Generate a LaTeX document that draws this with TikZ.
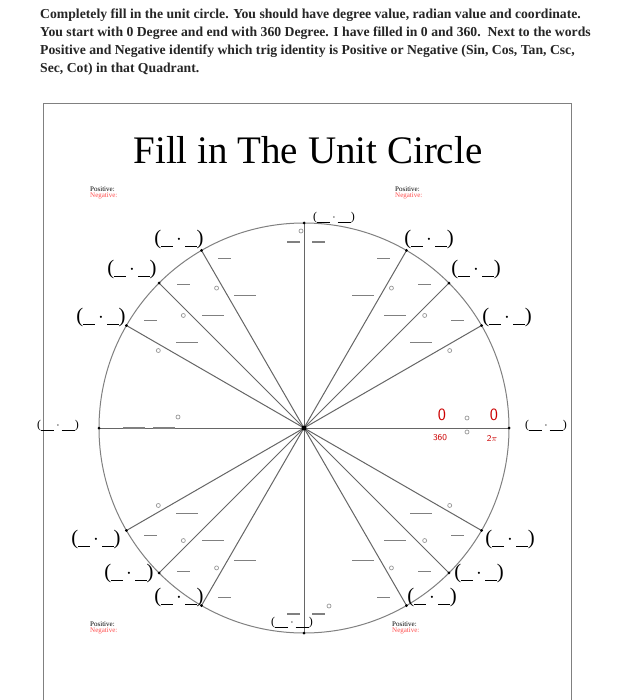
\documentclass[tikz,border=0pt]{standalone}
\usepackage{fontspec}
\setmainfont{Liberation Serif}
\begin{document}
\begin{tikzpicture}[x=1pt,y=-1pt,
  ray/.style={draw=black!60,line width=1pt},
  blankA/.style={fill=black!50,inner sep=0,minimum height=1.1pt,minimum width=13pt},
  blankB/.style={fill=black!50,inner sep=0,minimum height=1.1pt,minimum width=22pt},
  deg/.style={draw=black!40,circle,inner sep=0,minimum size=4pt,line width=0.7pt},
  pt/.style={fill=black,circle,inner sep=0,minimum size=3pt},
  coordbig/.style={font=\huge,inner sep=0},
  coordsmall/.style={font=\large,inner sep=0},
  quad/.style={font=\fontsize{7}{7}\selectfont,align=left,inner sep=0,anchor=north west},
  red/.style={text=red!80!black}]
\useasboundingbox (0,0) rectangle (641,700);
\fill[white] (0,0) rectangle (641,700);
\node[anchor=north west,align=left,inner sep=0,font=\fontsize{13.7}{18}\selectfont\bfseries,text=black!85] (intro) at (40,9)
{Completely fill in the unit circle. You should have degree value, radian value and coordinate.\\
You start with 0 Degree and end with 360 Degree. I have filled in 0 and 360.\ \ Next to the words\\
Positive and Negative identify which trig identity is Positive or Negative (Sin, Cos, Tan, Csc,\\
Sec, Cot) in that Quadrant.};
\draw[black!50,line width=0.9pt] (43,103) rectangle (571,702);
\node[font=\fontsize{39}{39}\selectfont,inner sep=0] (title) at (308,150) {Fill in The Unit Circle};
\node[quad] (q2) at (90,187) {Positive:\\[-1pt]\textcolor{red!70}{Negative:}};
\node[quad] (q1) at (395,187) {Positive:\\[-1pt]\textcolor{red!70}{Negative:}};
\node[quad] (q3) at (90,622) {Positive:\\[-1pt]\textcolor{red!70}{Negative:}};
\node[quad] (q4) at (392,622) {Positive:\\[-1pt]\textcolor{red!70}{Negative:}};
\begin{scope}[shift={(304,428)},y=1pt]
\coordinate (O) at (0,0);
\draw[black!50,line width=1pt] (O) circle (205);
\foreach \a in {0,30,45,60,90,120,135,150} \draw[ray] (\a:205) -- (\a+180:205);
\foreach \a in {0,30,45,60,90,120,135,150,180,210,225,240,270,300,315,330}
  \node[pt] (p\a) at (\a:205) {};
\node[pt,minimum size=5pt] at (O) {};
\foreach \a in {30,45,60,120,135,150,210,225,240,300,315,330}{
  \pgfmathsetmacro{\s}{sin(2*\a)>0 ? 1 : -1}
  \node[blankA] at (\a+5*\s:187) {};
  \node[blankB] at (\a+6*\s:145) {};
  \node[deg] at (\a-2*\s:165) {};
}
% axes blanks
\node[blankA] at (-11,186) {}; \node[blankA] at (14,186) {}; \node[deg] at (-3,197) {};
\node[blankA] at (-11,-186) {}; \node[blankA] at (14,-186) {}; \node[deg] at (25,-178) {};
\node[blankB] at (-170,0) {}; \node[blankB] at (-140,0) {}; \node[deg] at (-126,11) {};
% coordinate labels
\node[coordsmall] (c90) at (30,210) {(\underline{\hspace{1.1em}}\,$\cdot$\,\underline{\hspace{1.1em}})};
\node[coordsmall] (c270) at (-12,-195) {(\underline{\hspace{1.1em}}\,$\cdot$\,\underline{\hspace{1.1em}})};
\node[coordsmall] (c0) at (242,2) {(\underline{\hspace{1.1em}}\,$\cdot$\,\underline{\hspace{1.1em}})};
\node[coordsmall] (c180) at (-246,2) {(\underline{\hspace{1.1em}}\,$\cdot$\,\underline{\hspace{1.1em}})};
\foreach \x/\y/\n in {125/188/60,172/158/45,203/110/30,-125/188/120,-172/158/135,-203/110/150,-208/-112/210,-175/-146/225,-125/-170/240,128/-170/300,175/-146/315,206/-112/330}
  \node[coordbig] (c\n) at (\x,\y) {(\underline{\hspace{0.55em}}\,$\cdot$\,\underline{\hspace{0.55em}})};
% red filled-in values
\node[red,font=\LARGE\sffamily,inner sep=0] (r1) at (138,13) {0};
\node[red,font=\LARGE\sffamily,inner sep=0] (r2) at (190,13) {0};
\node[red,font=\small\sffamily,inner sep=0] (r3) at (136,-10) {360};
\node[red,font=\small\sffamily,inner sep=0] (r4) at (188,-10) {2$\pi$};
\node[deg] at (163,10) {}; \node[deg] at (163,-4) {};
\end{scope}
\end{tikzpicture}
\end{document}
